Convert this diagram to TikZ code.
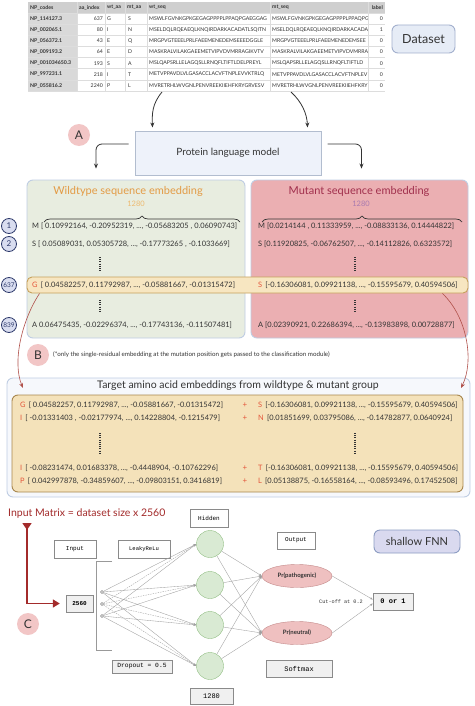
\documentclass[tikz,border=0pt]{standalone}
\usepackage{fontspec}
\setmainfont{Lato}
\setmonofont{Liberation Mono}
\usetikzlibrary{arrows.meta, positioning, calc, decorations.pathreplacing, shapes.geometric}
\definecolor{txt}{HTML}{333333}
\definecolor{edge}{HTML}{555555}
\definecolor{pedge}{HTML}{BFCDE3}
\definecolor{plmfill}{HTML}{EEF2FA}
\definecolor{wtfill}{HTML}{E8EDE0}
\definecolor{mtfill}{HTML}{EBAFB2}
\definecolor{wttitle}{HTML}{E39B45}
\definecolor{wtnum}{HTML}{EDBA70}
\definecolor{mttitle}{HTML}{A02F4C}
\definecolor{mtnum}{HTML}{A87AB0}
\definecolor{hlfill}{HTML}{F7E6C1}
\definecolor{hledge}{HTML}{C6A15B}
\definecolor{tgfill}{HTML}{F6F8FC}
\definecolor{inner}{HTML}{F4E2BA}
\definecolor{inedge}{HTML}{A8874E}
\definecolor{aared}{HTML}{E4553A}
\definecolor{tagfill}{HTML}{F2C6C6}
\definecolor{numfill}{HTML}{D9DDF0}
\definecolor{numedge}{HTML}{2E3A6B}
\definecolor{arcred}{HTML}{B0504A}
\definecolor{darkred}{HTML}{A32B2B}
\definecolor{hidfill}{HTML}{D9EAD3}
\definecolor{hidedge}{HTML}{93BF85}
\definecolor{outfill}{HTML}{EFC0C0}
\definecolor{outedge}{HTML}{C48A8A}
\definecolor{monofill}{HTML}{F0F0F0}
\definecolor{monoedge}{HTML}{8A8A8A}
\definecolor{fnnfill}{HTML}{D9D9EF}
\definecolor{fnnedge}{HTML}{8C9CC2}
\definecolor{dsfill}{HTML}{E6ECF6}
\definecolor{tblhead}{HTML}{CFCFCF}
\definecolor{tblkey}{HTML}{D9D9D9}
\definecolor{tblline}{HTML}{DDDDDD}
\tikzset{
  tc/.style={inner sep=0pt, font=\fontsize{5.2}{6}\selectfont, text=txt},
  tcb/.style={tc, font=\fontsize{5.2}{6}\selectfont\bfseries},
  n/.style={draw=pedge, line width=0.9pt, rounded corners=6pt, inner sep=0pt},
  er/.style={anchor=west, inner sep=0pt, font=\fontsize{7.45}{8}\selectfont, text=txt},
  tag/.style={circle, fill=tagfill, minimum size=22pt, inner sep=0pt, font=\fontsize{12}{13}\selectfont, text=txt},
  num/.style={circle, draw=numedge, fill=numfill, line width=0.8pt, minimum size=15pt, inner sep=0pt, font=\fontsize{8}{9}\selectfont, text=numedge},
  a/.style={-{Stealth[length=5pt, width=4pt]}, draw=txt, line width=0.8pt},
  rarc/.style={-{Stealth[length=5pt, width=4pt]}, draw=arcred, line width=0.6pt},
  vd/.style={draw=txt, line width=1.2pt, dash pattern=on 0.9pt off 1.3pt},
  mb/.style={draw=monoedge, fill=white, inner sep=0pt, font=\fontsize{6}{7}\ttfamily},
  mbg/.style={mb, fill=monofill},
  hid/.style={circle, draw=hidedge, fill=hidfill, minimum size=27pt, inner sep=0pt},
  outn/.style={ellipse, draw=outedge, fill=outfill, minimum width=70pt, minimum height=23pt, inner sep=0pt, font=\fontsize{6}{7}\selectfont\bfseries, text=txt},
  nn/.style={-{Stealth[length=3pt, width=2.2pt]}, draw=gray!75, line width=0.35pt},
  nnd/.style={nn, dash pattern=on 1.5pt off 1pt},
}
\begin{document}
\begin{tikzpicture}[x=1pt, y=-1pt]
\useasboundingbox[fill=white] (0,0) rectangle (474,706);

\fill[tblhead] (28,2) rectangle (385,13);
\fill[tblkey] (28,13) rectangle (77,91);
\foreach \x in {77,105,125,147,270,368} \draw[tblline, line width=0.4pt] (\x,2) -- (\x,91);
\foreach \r in {0,...,7} \draw[tblline, line width=0.4pt] (28,13+11.14*\r) -- (385,13+11.14*\r);
\node[tcb, anchor=west] (h1) at (30,7.5) {NP\_codes};
\node[tcb, anchor=west] (h2) at (79,7.5) {aa\_index};
\node[tcb, anchor=west] (h3) at (107,7.5) {wt\_aa};
\node[tcb, anchor=west] (h4) at (127,7.5) {mt\_aa};
\node[tcb, anchor=west] (h5) at (149,7.5) {wt\_seq};
\node[tcb, anchor=west] (h6) at (272,7.5) {mt\_seq};
\node[tcb, anchor=east] (h7) at (383,7.5) {label};
\foreach \npc/\idx/\wa/\ma/\ws/\ms/\lab [count=\i] in {
  NP\_114127.3/637/G/S/MSWLFGVNKGPKGEGAGPPPPLPPAQPGAEGGAG/MSWLFGVNKGPKGEGAGPPPPLPPAQPG/0,
  NP\_002065.1/80/I/N/MSELDQLRQEAEQLKNQIRDARKACADATLSQITN/MSELDQLRQEAEQLKNQIRDARKACADA/1,
  NP\_056372.1/43/E/Q/MRGPVGTEEELPRLFAEEMENEDEMSEEEDGGLE/MRGPVGTEEELPRLFAEEMENEDEMSEE/0,
  NP\_009193.2/64/E/D/MASKRALVILAKGAEEMETVIPVDVMRRAGIKVTV/MASKRALVILAKGAEEMETVIPVDVMRRA/0,
  NP\_001034650.3/193/S/A/MSLQAPSRLLELAGQSLLRNQFLTIFTLDELPREYL/MSLQAPSRLLELAGQSLLRNQFLTIFTLD/0,
  NP\_997231.1/218/I/T/METVPPAVDLVLGASACCLACVFTNPLEVVKTRLQ/METVPPAVDLVLGASACCLACVFTNPLEV/0,
  NP\_055816.2/2240/P/L/MVRETRHLWVGNLPENVREEKIIEHFKRYGRVESV/MVRETRHLWVGNLPENVREEKIIEHFKRY/0}{
  \pgfmathsetmacro\ry{13+11.14*(\i-1)}
  \pgfmathsetmacro\rc{\ry+5.7}
  \node[tcb, anchor=west] (np\i) at (30,\rc) {\npc};
  \node[tc, anchor=east] (ix\i) at (103,\rc) {\idx};
  \node[tc, anchor=west] (wa\i) at (107,\rc) {\wa};
  \node[tc, anchor=west] (ma\i) at (128,\rc) {\ma};
  \begin{scope}
    \clip (147,\ry) rectangle (269.6,\ry+11.14);
    \node[tc, anchor=west] (ws\i) at (149,\rc) {\ws};
  \end{scope}
  \begin{scope}
    \clip (270,\ry) rectangle (367.6,\ry+11.14);
    \node[tc, anchor=west] (ms\i) at (272,\rc) {\ms};
  \end{scope}
  \node[tc, anchor=east] (lb\i) at (383,\rc) {\lab};
}
\node[n, draw=fnnedge!80, fill=dsfill, minimum width=63pt, minimum height=28pt, font=\fontsize{12.5}{14}\selectfont, text=txt] (ds) at (423.5,39) {Dataset};

\node[tag] (ta) at (79,135) {A};
\node[draw=pedge!80!gray, line width=1pt, fill=plmfill, minimum width=186pt, minimum height=44pt, font=\fontsize{10}{12}\selectfont, text=txt] (plm) at (228,153) {Protein language model};
\coordinate (tl) at (162,92);
\coordinate (tr) at (291,92);
\draw[a] (tl) .. controls (152,104) and (152,114) .. ([xshift=18pt, yshift=3pt]plm.north west);
\draw[a] (tr) .. controls (302,102) and (307,114) .. ([xshift=-14pt, yshift=3pt]plm.north east);

\node[n, fill=wtfill, minimum width=218pt, minimum height=158pt] (wt) at (136,259) {};
\node[n, fill=mtfill, minimum width=217pt, minimum height=158pt] (mt) at (359.5,259) {};
\draw[a, rounded corners=6pt] ([xshift=-6pt, yshift=9pt]plm.west) -| ([xshift=-40pt, yshift=11pt]wt.north);
\draw[a, rounded corners=6pt] ([xshift=6pt, yshift=9pt]plm.east) -| ([xshift=2pt, yshift=11pt]mt.north);

\node[font=\fontsize{11}{12}\selectfont, text=wttitle] (wtt) at (128,191) {Wildtype sequence embedding};
\node[font=\fontsize{7.5}{9}\selectfont, text=wtnum] (wtd) at (136,204) {1280};
\node[font=\fontsize{11}{12}\selectfont, text=mttitle] (mtt) at (359,191) {Mutant sequence embedding};
\node[font=\fontsize{7.5}{9}\selectfont, text=mtnum] (mtd) at (361,204) {1280};
\draw[txt, line width=0.7pt, decorate, decoration={brace, amplitude=6pt}] (44,222) -- (240,222);
\draw[txt, line width=0.7pt, decorate, decoration={brace, amplitude=6pt}] (262,222) -- (462,222);

\node[er] (wm) at (32,226) {M [ 0.10992164, -0.20952319, ..., -0.05683205 , 0.06090743]};
\node[er] (ws) at (32,244) {S [ 0.05089031, 0.05305728, ..., -0.17773265 , -0.1033669]};
\node[er] (mm) at (258,226) {M [0.0214144 , 0.11333959, ..., -0.08833136, 0.14444822]};
\node[er] (ms) at (258,244) {S [0.11920825, -0.06762507, ..., -0.14112826, 0.6323572]};
\draw[vd] (100,257) -- (100,272);
\draw[vd] (355,257) -- (355,272);

\node[draw=hledge, line width=0.9pt, fill=hlfill, rounded corners=5pt, minimum width=441pt, minimum height=16pt, inner sep=0pt] (hl) at (247.5,285) {};
\node[er] (wg) at (32,285) {\textcolor{aared}{G}\, [ 0.04582257, 0.11792987, ..., -0.05881667, -0.01315472]};
\node[er] (ms2) at (258,285) {\textcolor{aared}{S}\, [-0.16306081, 0.09921138, ..., -0.15595679, 0.40594506]};
\draw[vd] (100,300) -- (100,313);
\draw[vd] (355,300) -- (355,313);
\node[er] (wa) at (32,325) {A 0.06475435, -0.02296374, ..., -0.17743136, -0.11507481]};
\node[er] (ma) at (258,325) {A [0.02390921, 0.22686394, ..., -0.13983898, 0.00728877]};

\node[num] (n1) at (9,226) {1};
\node[num] (n2) at (9,244) {2};
\node[num, font=\fontsize{6.5}{7}\selectfont] (n637) at (9,285) {637};
\node[num, font=\fontsize{6.5}{7}\selectfont] (n839) at (9,325) {839};

\node[tag] (tb) at (38,355) {B};
\node[anchor=west, inner sep=0pt, font=\fontsize{6.2}{7}\selectfont, text=txt] (note) at (53,355) {(*only the single-residual embedding at the mutation position gets passed to the classification module)};

\node[n, fill=tgfill, minimum width=463pt, minimum height=119pt] (tg) at (238.5,437.5) {};
\node[font=\fontsize{10.5}{12}\selectfont, text=txt] (tgt) at (238,386) {Target amino acid embeddings from wildtype \& mutant group};
\node[draw=inedge, line width=0.9pt, fill=inner, rounded corners=6pt, minimum width=451pt, minimum height=97pt, inner sep=0pt] (in) at (237.5,443.5) {};
\coordinate (al) at ([xshift=13pt]hl.south west);
\coordinate (ar) at ([xshift=-26pt]hl.south east);
\draw[rarc] (al) .. controls (22,320) and (12,362) .. (23,388);
\draw[rarc] (ar) .. controls (468,318) and (474,362) .. (461,388);

\node[er] (r1l) at (20,405) {\textcolor{aared}{G}\, [ 0.04582257, 0.11792987, ..., -0.05881667, -0.01315472]};
\node[er] (r2l) at (20,418) {\textcolor{aared}{I}\, [ -0.01331403 , -0.02177974, ..., 0.14228804, -0.1215479]};
\node[er] (r3l) at (20,468) {\textcolor{aared}{I}\, [ -0.08231474, 0.01683378, ..., -0.4448904, -0.10762296]};
\node[er] (r4l) at (20,481) {\textcolor{aared}{P}\, [ 0.042997878, -0.34859607, ..., -0.09803151, 0.3416819]};
\foreach \y [count=\k] in {405,418,468,481} \node[text=aared, font=\fontsize{8}{9}\selectfont, inner sep=0pt] (p\k) at (245,\y) {+};
\node[er] (r1r) at (258,405) {\textcolor{aared}{S}\, [-0.16306081, 0.09921138, ..., -0.15595679, 0.40594506]};
\node[er] (r2r) at (258,418) {\textcolor{aared}{N}\, [0.01851699, 0.03795086, ..., -0.14782877, 0.0640924]};
\node[er] (r3r) at (258,468) {\textcolor{aared}{T}\, [-0.16306081, 0.09921138, ..., -0.15595679, 0.40594506]};
\node[er] (r4r) at (258,481) {\textcolor{aared}{L}\, [0.05138875, -0.16558164, ..., -0.08593496, 0.17452508]};
\draw[vd] (100,433) -- (100,453);
\draw[vd] (355,433) -- (355,453);

\node[anchor=west, inner sep=0pt, font=\fontsize{10.5}{12}\selectfont, text=darkred] (imx) at (8,514) {Input Matrix = dataset size x 2560};
\coordinate (im) at (27,523);
\node[tag] (tc) at (28,624) {C};
\node[mbg, minimum width=27pt, minimum height=17pt, font=\fontsize{6}{7}\ttfamily\bfseries] (i2560) at (79.5,603.5) {2560};
\draw[darkred, line width=1.6pt, {Triangle[reversed, length=7pt, width=9pt]}-{Triangle[length=7pt, width=8pt]}] (im) |- ([xshift=-6pt]i2560.west);

\node[mb, minimum width=42pt, minimum height=18pt] (lin) at (75,549) {Input};
\node[mb, minimum width=52pt, minimum height=18pt, font=\fontsize{5.5}{6}\ttfamily] (lrelu) at (144,549) {LeakyReLu};
\node[mb, minimum width=38pt, minimum height=18pt] (lhid) at (209,518) {Hidden};
\node[mb, minimum width=38pt, minimum height=17pt] (lout) at (296,540.5) {Output};
\node[mbg, minimum width=60pt, minimum height=13pt, font=\fontsize{6.3}{7}\ttfamily] (drop) at (142,666.5) {Dropout = 0.5};
\node[mbg, minimum width=43pt, minimum height=16pt, font=\fontsize{7}{8}\ttfamily] (h1280) at (211.5,696) {1280};
\node[mbg, minimum width=66pt, minimum height=17pt, font=\fontsize{7}{8}\ttfamily] (soft) at (299,668.5) {Softmax};
\node[mbg, minimum width=40pt, minimum height=17pt, font=\fontsize{7}{8}\ttfamily\bfseries] (bin) at (393,601.5) {0 or 1};
\node[n, draw=fnnedge, fill=fnnfill, minimum width=86pt, minimum height=23pt, font=\fontsize{11}{12}\selectfont, text=txt] (fnn) at (417,541.5) {shallow FNN};

\draw[gray!80, line width=0.5pt] (112,561) -- (96,561) -- (96,650) -- (112,650);
\foreach \y [count=\k] in {592,604,616} \node[circle, draw=gray, fill=white, inner sep=0pt, minimum size=3pt] (d\k) at (102,\y) {};
\foreach \y [count=\k] in {544,585,625,666} \node[hid] (hn\k) at (210,\y) {};
\node[outn] (pp) at (297,576) {Pr(pathogenic)};
\node[outn] (pn) at (297,633) {Pr(neutral)};

\foreach \k in {1,...,4} {
  \draw[nn] (d1) -- (hn\k.west);
  \draw[nnd] (d2) -- (hn\k.west);
  \draw[nn] (d3) -- (hn\k.west);
  \draw[nn] (hn\k) -- (pp.west);
  \draw[nn] (hn\k) -- (pn.west);
}
\draw[nn] (pp.east) -- ([yshift=2pt]bin.west);
\draw[nn] (pn.east) -- ([yshift=-2pt]bin.west);
\node[font=\fontsize{5.2}{6}\ttfamily, text=txt, inner sep=0pt] (cut) at (341,602) {Cut-off at 0.2};
\end{tikzpicture}
\end{document}
